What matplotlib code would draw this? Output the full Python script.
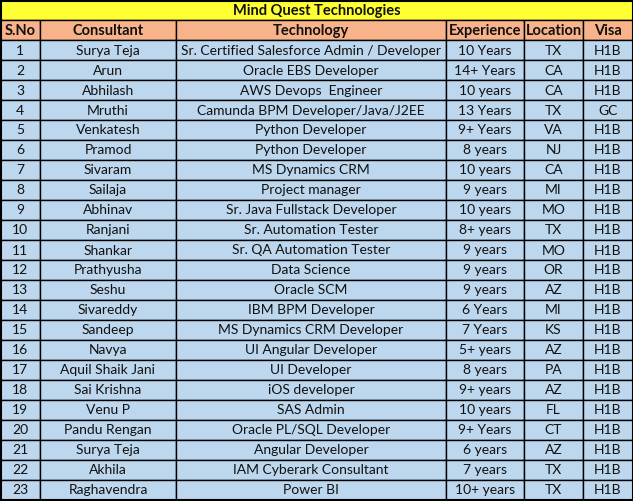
import matplotlib
matplotlib.use('Agg')
import matplotlib.pyplot as plt
from matplotlib.patches import Rectangle

title = 'Mind Quest Technologies'
headers = ['S.No', 'Consultant', 'Technology', 'Experience', 'Location', 'Visa']
consultants = ['Surya Teja', 'Arun', 'Abhilash', 'Mruthi', 'Venkatesh', 'Pramod', 'Sivaram',
               'Sailaja', 'Abhinav', 'Ranjani', 'Shankar', 'Prathyusha', 'Seshu', 'Sivareddy',
               'Sandeep', 'Navya', 'Aquil Shaik Jani', 'Sai Krishna', 'Venu P', 'Pandu Rengan',
               'Surya Teja', 'Akhila', 'Raghavendra']
technologies = ['Sr. Certified Salesforce Admin / Developer', 'Oracle EBS Developer',
                'AWS Devops  Engineer', 'Camunda BPM Developer/Java/J2EE', 'Python Developer',
                'Python Developer', 'MS Dynamics CRM', 'Project manager',
                'Sr. Java Fullstack Developer', 'Sr. Automation Tester', 'Sr. QA Automation Tester',
                'Data Science', 'Oracle SCM', 'IBM BPM Developer', 'MS Dynamics CRM Developer',
                'UI Angular Developer', 'UI Developer', 'iOS developer', 'SAS Admin',
                'Oracle PL/SQL Developer', 'Angular Developer', 'IAM Cyberark Consultant', 'Power BI']
experience = ['10 Years', '14+ Years', '10 years', '13 Years', '9+ Years', '8 years', '10 years',
              '9 years', '10 years', '8+ years', '9 years', '9 years', '9 years', '6 Years',
              '7 Years', '5+ years', '8 years', '9+ years', '10 years', '9+ Years', '6 years',
              '7 years', '10+ years']
locations = ['TX', 'CA', 'CA', 'TX', 'VA', 'NJ', 'CA', 'MI', 'MO', 'TX', 'MO', 'OR', 'AZ', 'MI',
             'KS', 'AZ', 'PA', 'AZ', 'FL', 'CT', 'AZ', 'TX', 'TX']
visas = ['H1B', 'H1B', 'H1B', 'GC', 'H1B', 'H1B', 'H1B', 'H1B', 'H1B', 'H1B', 'H1B', 'H1B', 'H1B',
         'H1B', 'H1B', 'H1B', 'H1B', 'H1B', 'H1B', 'H1B', 'H1B', 'H1B', 'H1B']

W, H = 633, 501
col_edges = [0, 40, 176, 446, 524, 583, 633]
row_h = 20
top = 1
font = 'Lato'
fs = 10

fig = plt.figure(figsize=(W / 100, H / 100), dpi=100)
ax = fig.add_axes([0, 0, 1, 1])
ax.set_xlim(0, W)
ax.set_ylim(H, 0)
ax.axis('off')


def cell(x0, x1, y0, text, fc, bold=False, size=fs):
    ax.add_patch(Rectangle((x0, y0), x1 - x0, row_h, facecolor=fc, edgecolor='black', lw=1))
    ax.text((x0 + x1) / 2, y0 + row_h / 2 + 0.5, text, ha='center', va='center',
            fontsize=size, family=font, fontweight='bold' if bold else 'normal', color='#111111')


cell(0, W, top - 1, title, '#FFFF33', bold=True, size=10.5)
for i, h in enumerate(headers):
    cell(col_edges[i], col_edges[i + 1], top + row_h - 1, h, '#F8B38A', bold=True, size=10.5)

rows = zip(range(1, 24), consultants, technologies, experience, locations, visas)
for r, vals in enumerate(rows):
    y0 = top + row_h * (r + 2) - 1
    for i, v in enumerate(vals):
        cell(col_edges[i], col_edges[i + 1], y0, str(v), '#BDD7EE')

ax.add_patch(Rectangle((0.5, 0.5), W - 1, H - 1.5, fill=False, edgecolor='black', lw=1.5))
fig.savefig('out.png', dpi=100)
plt.close(fig)
